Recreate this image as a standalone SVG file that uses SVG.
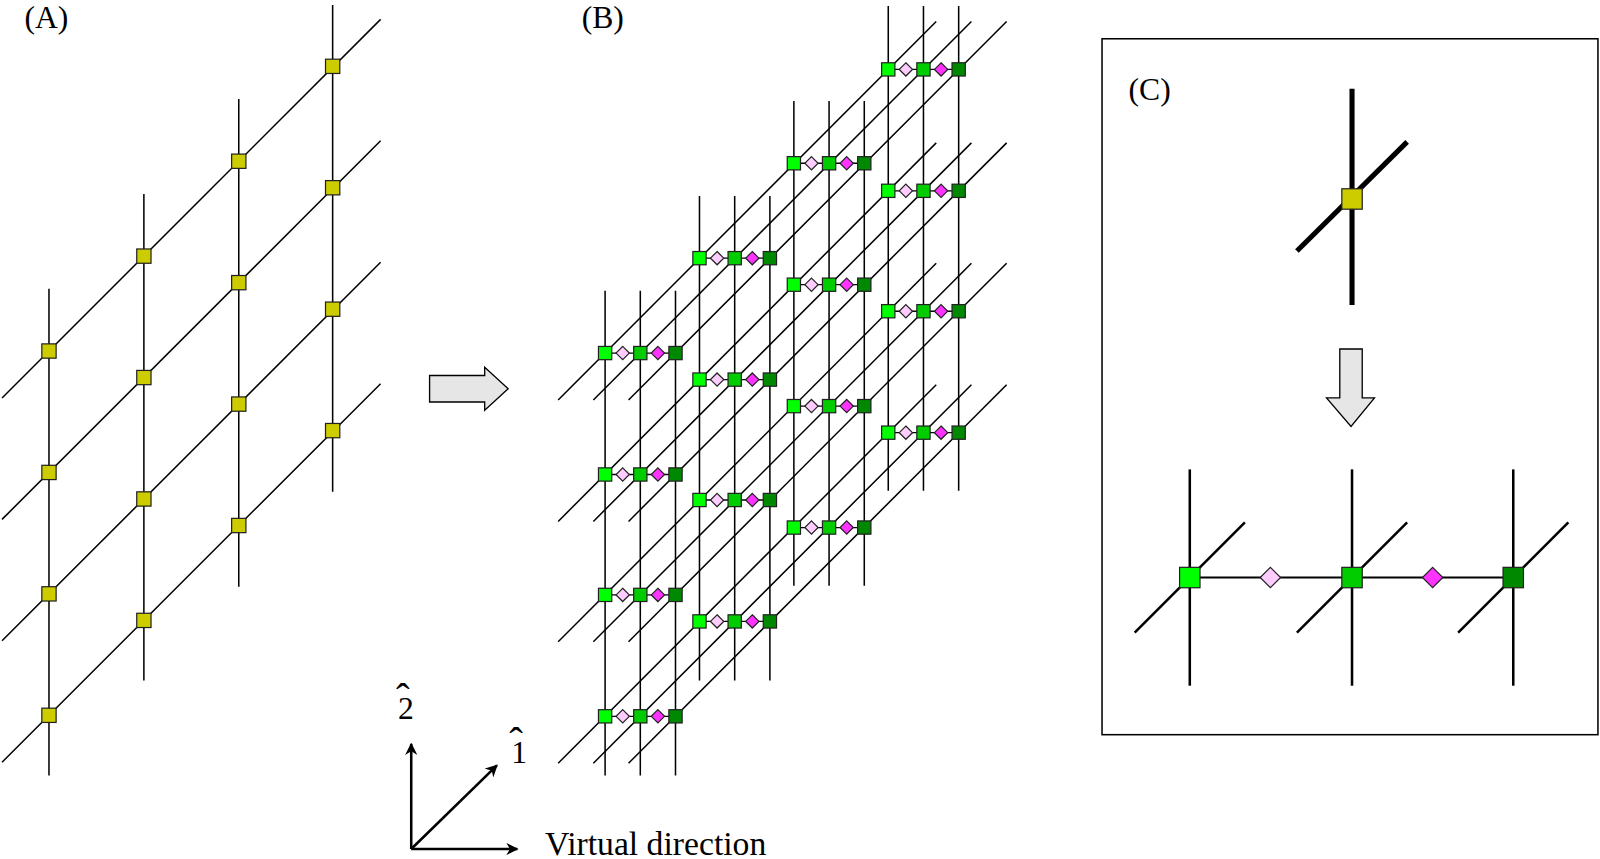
<svg xmlns="http://www.w3.org/2000/svg" width="1600" height="859" viewBox="0 0 1600 859">
<defs>
<style>
.t{font-family:"Liberation Serif",serif;fill:#000}
.l{stroke:#000;stroke-width:1.5;fill:none}
.y{fill:#cccc00;stroke:#222;stroke-width:1.2}
.g1{fill:#00ff00;stroke:#222;stroke-width:1.2}
.g2{fill:#00cc00;stroke:#222;stroke-width:1.2}
.g3{fill:#008800;stroke:#222;stroke-width:1.2}
.d1{fill:#ffccff;stroke:#222;stroke-width:1.2}
.d2{fill:#ff33ff;stroke:#222;stroke-width:1.2}
.c{stroke:#000;stroke-width:2.5;fill:none}
</style>
<marker id="ah2" viewBox="0 0 10 10" refX="9" refY="5" markerWidth="12" markerHeight="12" orient="auto" markerUnits="userSpaceOnUse"><path d="M0,0 L10,5 L0,10 L3,5 Z" fill="#000"/></marker>
<rect id="sq" x="-7" y="-7" width="14" height="14"/>
<rect id="sqs" x="-6.5" y="-6.5" width="13" height="13"/>
<path id="dm" d="M0,-6.5 L6.5,0 L0,6.5 L-6.5,0 Z"/>
<rect id="sqc" x="-10" y="-10" width="20" height="20"/>
<path id="dmc" d="M0,-10 L10,0 L0,10 L-10,0 Z"/>
<g id="grp"><line x1="0" y1="0" x2="69" y2="0" stroke="#000" stroke-width="1.3"/><use href="#sqs" class="g1"/><use href="#dm" class="d1" x="17.25"/><use href="#sqs" class="g2" x="34.5"/><use href="#dm" class="d2" x="51.75"/><use href="#sqs" class="g3" x="69"/></g>
</defs>
<g transform="scale(1.0204)">
<g id="labels">
<text class="t" x="24" y="27" font-size="31">(A)</text>
<text class="t" x="570" y="27" font-size="31">(B)</text>
<text class="t" x="1106" y="98" font-size="31">(C)</text>
<text class="t" x="534" y="838" font-size="33">Virtual direction</text>
<text class="t" x="390" y="705" font-size="31">2</text>
<text class="t" x="388" y="697" font-size="40">ˆ</text>
<text class="t" x="501" y="748" font-size="31">1</text>
<text class="t" x="499" y="740" font-size="40">ˆ</text>
</g>
<g id="connectors">
<g class="l">
<line x1="48" y1="283" x2="48" y2="760"/>
<line x1="141" y1="190" x2="141" y2="667"/>
<line x1="234" y1="97" x2="234" y2="575"/>
<line x1="326" y1="5" x2="326" y2="482"/>
<line x1="2" y1="390" x2="373" y2="19"/>
<line x1="2" y1="509" x2="373" y2="138"/>
<line x1="2" y1="628" x2="373" y2="257"/>
<line x1="2" y1="747" x2="373" y2="376"/>
</g>
<g class="l" stroke-width="1.3">
<line x1="593" y1="285" x2="593" y2="760"/><line x1="627.5" y1="285" x2="627.5" y2="760"/><line x1="662" y1="285" x2="662" y2="760"/>
<line x1="685.5" y1="192" x2="685.5" y2="667"/><line x1="720" y1="192" x2="720" y2="667"/><line x1="754.5" y1="192" x2="754.5" y2="667"/>
<line x1="778" y1="99" x2="778" y2="574"/><line x1="812.5" y1="99" x2="812.5" y2="574"/><line x1="847" y1="99" x2="847" y2="574"/>
<line x1="870.5" y1="6" x2="870.5" y2="481"/><line x1="905" y1="6" x2="905" y2="481"/><line x1="939.5" y1="6" x2="939.5" y2="481"/>
</g>
<g class="l" stroke-width="1.3">
<line x1="547" y1="392" x2="917.5" y2="21"/><line x1="581.5" y1="392" x2="952" y2="21"/><line x1="616" y1="392" x2="986.5" y2="21"/>
<line x1="547" y1="511" x2="917.5" y2="140"/><line x1="581.5" y1="511" x2="952" y2="140"/><line x1="616" y1="511" x2="986.5" y2="140"/>
<line x1="547" y1="629" x2="917.5" y2="258"/><line x1="581.5" y1="629" x2="952" y2="258"/><line x1="616" y1="629" x2="986.5" y2="258"/>
<line x1="547" y1="748" x2="917.5" y2="377"/><line x1="581.5" y1="748" x2="952" y2="377"/><line x1="616" y1="748" x2="986.5" y2="377"/>
</g>
<line x1="1325" y1="87" x2="1325" y2="299" stroke="#000" stroke-width="5"/>
<line x1="1271" y1="246" x2="1379" y2="139" stroke="#000" stroke-width="5"/>
<g class="c">
<line x1="1166" y1="460" x2="1166" y2="672"/><line x1="1325" y1="460" x2="1325" y2="672"/><line x1="1483" y1="460" x2="1483" y2="672"/>
<line x1="1112" y1="620" x2="1220" y2="512"/><line x1="1271" y1="620" x2="1379" y2="512"/><line x1="1429" y1="620" x2="1537" y2="512"/>
<line x1="1166" y1="566" x2="1483" y2="566" stroke-width="2"/>
</g>
<g stroke="#000" stroke-width="2.5" fill="none">
<line x1="403" y1="832" x2="403" y2="729" marker-end="url(#ah2)"/>
<line x1="403" y1="832" x2="507" y2="832" marker-end="url(#ah2)"/>
<line x1="403" y1="832" x2="487" y2="750" marker-end="url(#ah2)"/>
</g>
</g>
<g id="arrowB"><path d="M421,368 L475,368 L475,360 L498,381 L475,402 L475,394 L421,394 Z" fill="#e6e6e6" stroke="#000" stroke-width="1.3"/></g>
<g id="arrowC"><path d="M1313,342 L1335,342 L1335,390 L1347,390 L1324,418 L1300,390 L1313,390 Z" fill="#e6e6e6" stroke="#000" stroke-width="1.3"/></g>
<rect id="boxC" x="1080" y="38" width="486" height="682" fill="none" stroke="#000" stroke-width="1.5"/>
<g id="nodesA">
<use href="#sq" class="y" x="48" y="344"/><use href="#sq" class="y" x="48" y="463"/><use href="#sq" class="y" x="48" y="582"/><use href="#sq" class="y" x="48" y="701"/>
<use href="#sq" class="y" x="141" y="251"/><use href="#sq" class="y" x="141" y="370"/><use href="#sq" class="y" x="141" y="489"/><use href="#sq" class="y" x="141" y="608"/>
<use href="#sq" class="y" x="234" y="158"/><use href="#sq" class="y" x="234" y="277"/><use href="#sq" class="y" x="234" y="396"/><use href="#sq" class="y" x="234" y="515"/>
<use href="#sq" class="y" x="326" y="65"/><use href="#sq" class="y" x="326" y="184"/><use href="#sq" class="y" x="326" y="303"/><use href="#sq" class="y" x="326" y="422"/>
</g>
<g id="nodesB">
<use id="b00" href="#grp" x="593" y="346"/><use id="b01" href="#grp" x="593" y="465"/><use id="b02" href="#grp" x="593" y="583"/><use id="b03" href="#grp" x="593" y="702"/>
<use id="b10" href="#grp" x="685.5" y="253"/><use id="b11" href="#grp" x="685.5" y="372"/><use id="b12" href="#grp" x="685.5" y="490"/><use id="b13" href="#grp" x="685.5" y="609"/>
<use id="b20" href="#grp" x="778" y="160"/><use id="b21" href="#grp" x="778" y="279"/><use id="b22" href="#grp" x="778" y="398"/><use id="b23" href="#grp" x="778" y="517"/>
<use id="b30" href="#grp" x="870.5" y="68"/><use id="b31" href="#grp" x="870.5" y="187"/><use id="b32" href="#grp" x="870.5" y="305"/><use id="b33" href="#grp" x="870.5" y="424"/>
</g>
<g id="nodesC">
<use href="#sqc" class="y" x="1325" y="195" stroke-width="2"/>
<use href="#sqc" class="g1" x="1166" y="566" stroke-width="2"/>
<use href="#dmc" class="d1" x="1245" y="566" stroke-width="2"/>
<use href="#sqc" class="g2" x="1325" y="566" stroke-width="2"/>
<use href="#dmc" class="d2" x="1404" y="566" stroke-width="2"/>
<use href="#sqc" class="g3" x="1483" y="566" stroke-width="2"/>
</g>
</g>
</svg>
